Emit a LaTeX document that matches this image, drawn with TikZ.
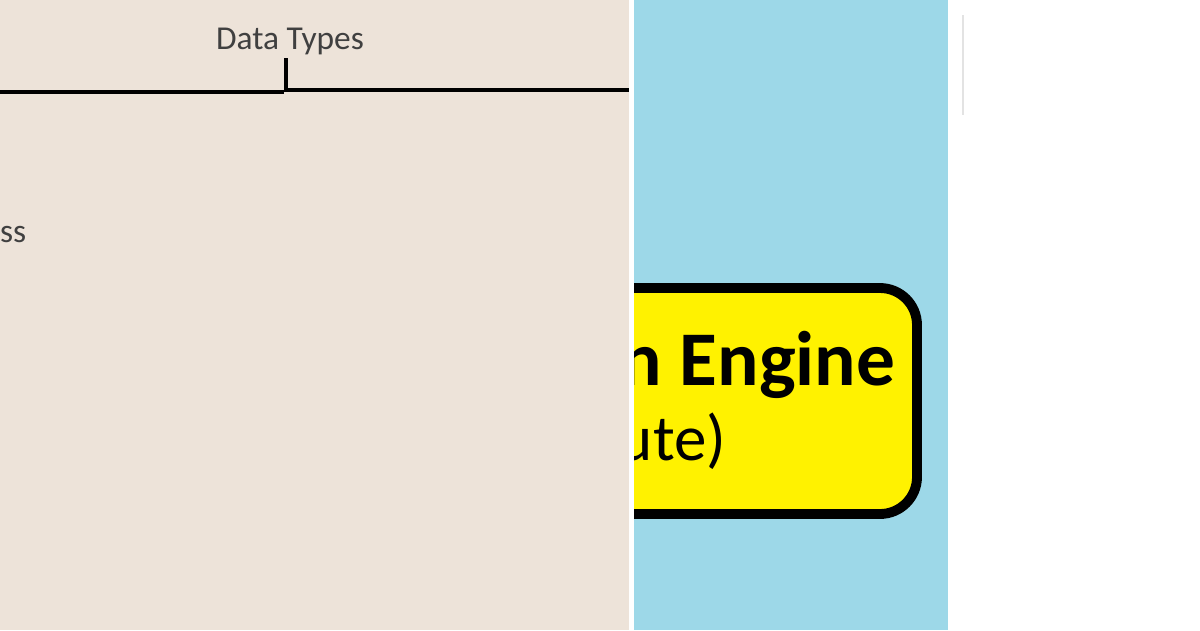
\documentclass[tikz,border=0pt]{standalone}
\usepackage{fontspec}
\setmainfont{Carlito}
\usepackage{tikz}
\usetikzlibrary{positioning}
\definecolor{paneltan}{HTML}{EDE3D9}
\definecolor{panelblue}{HTML}{9DD8E8}
\definecolor{engineyellow}{HTML}{FFF200}
\definecolor{labelgrey}{HTML}{404040}
\definecolor{rulegrey}{HTML}{E3E3E3}

\begin{document}
\begin{tikzpicture}[x=0.01cm,y=-0.01cm,
   caption/.style={inner sep=0pt,text=labelgrey,font=\fontsize{9.5}{11}\selectfont},
   bar/.style={line width=1.3pt,black},
   enginebox/.style={draw=black,fill=engineyellow,line width=2.8pt,rounded corners=0.37cm}]
   \useasboundingbox (0,0) rectangle (1200,630);
   \fill[white] (0,0) rectangle (1200,630);
   \fill[paneltan] (0,0) rectangle (629,630);
   \fill[panelblue] (634,0) rectangle (948,630);
   \draw[rulegrey,line width=0.7pt] (963,15) -- (963,115);
   % labels on the tan panel
   \node[caption,anchor=base] (types) at (290,49) {Data Types};
   \node[caption,anchor=base east] (proc) at (27,242) {ss};
   \coordinate (lstart) at (0,92);
   \coordinate (ljoin) at (284,92);
   \coordinate (rjoin) at (286,90);
   \coordinate (rend) at (629,90);
   \coordinate (tick) at (286,58);
   \draw[bar] (lstart) -- (ljoin);
   \draw[bar] (ljoin |- rjoin) -- (rend);
   \draw[bar] (tick) -- (rjoin);
   % engine box, cut at the blue panel
   \begin{scope}
    \clip (634,0) rectangle (948,630);
    \draw[enginebox] (560,288) rectangle (917,514);
    \node[inner sep=0pt,anchor=base east,font=\fontsize{22}{25}\selectfont\bfseries] (engine) at (896,385) {n Engine};
    \node[inner sep=0pt,anchor=base east,font=\fontsize{18.5}{21}\selectfont] (compute) at (727,460) {ute)};
   \end{scope}
\end{tikzpicture}
\end{document}
